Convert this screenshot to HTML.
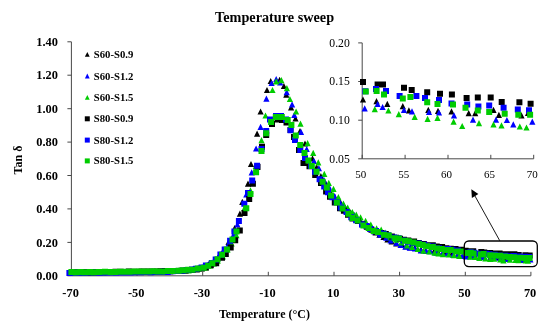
<!DOCTYPE html>
<html><head><meta charset="utf-8"><title>Temperature sweep</title>
<style>
html,body{margin:0;padding:0;background:#fff;}
body{width:550px;height:325px;overflow:hidden;}
svg{display:block;}
text{font-family:"Liberation Serif",serif;fill:#000;}
.b{font-weight:bold;}
</style></head><body>
<svg width="550" height="325" viewBox="0 0 550 325">
<rect width="550" height="325" fill="#fff"/>
<text class="b" x="274.6" y="21.8" font-size="14" text-anchor="middle" textLength="119" lengthAdjust="spacingAndGlyphs">Temperature sweep</text>
<g stroke="#484848" stroke-width="1" fill="none">
<path d="M71.4 41.8V275.8H530.9"/>
<path d="M67.4 275.8H71.4"/>
<path d="M67.4 242.4H71.4"/>
<path d="M67.4 208.9H71.4"/>
<path d="M67.4 175.5H71.4"/>
<path d="M67.4 142.1H71.4"/>
<path d="M67.4 108.7H71.4"/>
<path d="M67.4 75.2H71.4"/>
<path d="M67.4 41.8H71.4"/>
<path d="M71.4 271.8V275.8"/>
<path d="M137.0 271.8V275.8"/>
<path d="M202.7 271.8V275.8"/>
<path d="M268.3 271.8V275.8"/>
<path d="M334.0 271.8V275.8"/>
<path d="M399.6 271.8V275.8"/>
<path d="M465.3 271.8V275.8"/>
<path d="M530.9 271.8V275.8"/>
<path d="M362.2 42.9V158.8H533.7"/>
<path d="M358.2 158.8H362.2"/>
<path d="M358.2 120.2H362.2"/>
<path d="M358.2 81.5H362.2"/>
<path d="M358.2 42.9H362.2"/>
<path d="M362.2 154.8V158.8"/>
<path d="M405.1 154.8V158.8"/>
<path d="M448.0 154.8V158.8"/>
<path d="M490.8 154.8V158.8"/>
<path d="M533.7 154.8V158.8"/>
</g>
<text class="b" x="58" y="280.0" font-size="12.4" text-anchor="end">0.00</text>
<text class="b" x="58" y="246.6" font-size="12.4" text-anchor="end">0.20</text>
<text class="b" x="58" y="213.1" font-size="12.4" text-anchor="end">0.40</text>
<text class="b" x="58" y="179.7" font-size="12.4" text-anchor="end">0.60</text>
<text class="b" x="58" y="146.3" font-size="12.4" text-anchor="end">0.80</text>
<text class="b" x="58" y="112.9" font-size="12.4" text-anchor="end">1.00</text>
<text class="b" x="58" y="79.4" font-size="12.4" text-anchor="end">1.20</text>
<text class="b" x="58" y="46.0" font-size="12.4" text-anchor="end">1.40</text>
<text class="b" x="70.6" y="297.3" font-size="12.4" text-anchor="middle">-70</text>
<text class="b" x="136.2" y="297.3" font-size="12.4" text-anchor="middle">-50</text>
<text class="b" x="201.9" y="297.3" font-size="12.4" text-anchor="middle">-30</text>
<text class="b" x="267.5" y="297.3" font-size="12.4" text-anchor="middle">-10</text>
<text class="b" x="333.2" y="297.3" font-size="12.4" text-anchor="middle">10</text>
<text class="b" x="398.8" y="297.3" font-size="12.4" text-anchor="middle">30</text>
<text class="b" x="464.5" y="297.3" font-size="12.4" text-anchor="middle">50</text>
<text class="b" x="530.1" y="297.3" font-size="12.4" text-anchor="middle">70</text>
<text class="b" x="264.4" y="318" font-size="12.5" text-anchor="middle" textLength="91" lengthAdjust="spacingAndGlyphs">Temperature (°C)</text>
<text class="b" transform="translate(22,160) rotate(-90)" font-size="12" text-anchor="middle">Tan δ</text>
<text x="349.8" y="162.6" font-size="11.7" text-anchor="end">0.05</text>
<text x="349.8" y="124.0" font-size="11.7" text-anchor="end">0.10</text>
<text x="349.8" y="85.3" font-size="11.7" text-anchor="end">0.15</text>
<text x="349.8" y="46.7" font-size="11.7" text-anchor="end">0.20</text>
<text x="360.8" y="177.6" font-size="11" text-anchor="middle">50</text>
<text x="403.7" y="177.6" font-size="11" text-anchor="middle">55</text>
<text x="446.6" y="177.6" font-size="11" text-anchor="middle">60</text>
<text x="489.4" y="177.6" font-size="11" text-anchor="middle">65</text>
<text x="532.3" y="177.6" font-size="11" text-anchor="middle">70</text>
<path fill="#000000" d="M84.9 56.8L89.7 56.8L87.3 52.0Z"/>
<text class="b" x="93.8" y="58.1" font-size="10.8" textLength="39.6" lengthAdjust="spacingAndGlyphs">S60-S0.9</text>
<path fill="#0000ff" d="M84.9 78.4L89.7 78.4L87.3 73.6Z"/>
<text class="b" x="93.8" y="79.7" font-size="10.8" textLength="39.6" lengthAdjust="spacingAndGlyphs">S60-S1.2</text>
<path fill="#00cc00" d="M84.9 99.7L89.7 99.7L87.3 94.9Z"/>
<text class="b" x="93.8" y="101.0" font-size="10.8" textLength="39.6" lengthAdjust="spacingAndGlyphs">S60-S1.5</text>
<path fill="#000000" d="M84.8 116.3h5.0v5.0h-5.0Z"/>
<text class="b" x="93.8" y="122.3" font-size="10.8" textLength="39.6" lengthAdjust="spacingAndGlyphs">S80-S0.9</text>
<path fill="#0000ff" d="M84.8 137.6h5.0v5.0h-5.0Z"/>
<text class="b" x="93.8" y="143.6" font-size="10.8" textLength="39.6" lengthAdjust="spacingAndGlyphs">S80-S1.2</text>
<path fill="#00cc00" d="M84.8 158.4h5.0v5.0h-5.0Z"/>
<text class="b" x="93.8" y="164.4" font-size="10.8" textLength="39.6" lengthAdjust="spacingAndGlyphs">S80-S1.5</text>
<g><path fill="#000000" d="M68.3 275.4L74.5 275.4L71.4 269.2ZM72.4 275.3L78.6 275.3L75.5 269.1ZM76.4 275.3L82.6 275.3L79.5 269.1ZM81.0 275.4L87.2 275.4L84.1 269.2ZM85.9 275.4L92.1 275.4L89.0 269.2ZM90.7 275.4L96.9 275.4L93.8 269.2ZM94.7 275.2L100.9 275.2L97.8 269.0ZM100.3 275.3L106.5 275.3L103.4 269.1ZM104.6 275.1L110.8 275.1L107.7 268.9ZM110.6 275.0L116.8 275.0L113.7 268.8ZM115.3 274.9L121.5 274.9L118.4 268.7ZM119.2 274.9L125.4 274.9L122.3 268.7ZM123.6 275.1L129.8 275.1L126.7 268.9ZM127.6 275.0L133.8 275.0L130.7 268.8ZM133.3 275.0L139.5 275.0L136.4 268.8ZM138.4 274.7L144.6 274.7L141.5 268.5ZM143.0 274.7L149.2 274.7L146.1 268.5ZM146.9 274.8L153.1 274.8L150.0 268.6ZM151.2 274.5L157.4 274.5L154.3 268.3ZM155.9 274.5L162.1 274.5L159.0 268.3ZM161.1 274.3L167.3 274.3L164.2 268.1ZM165.5 274.1L171.7 274.1L168.6 267.9ZM170.9 274.0L177.1 274.0L174.0 267.8ZM176.0 273.6L182.2 273.6L179.1 267.4ZM181.8 273.2L188.0 273.2L184.9 267.0ZM186.2 272.4L192.4 272.4L189.3 266.2ZM190.3 272.0L196.5 272.0L193.4 265.8ZM195.8 271.2L202.0 271.2L198.9 265.0ZM200.7 269.9L206.9 269.9L203.8 263.7ZM206.0 266.8L212.2 266.8L209.1 260.6ZM211.1 263.2L217.3 263.2L214.2 257.0ZM215.6 259.2L221.8 259.2L218.7 253.0ZM220.7 252.8L226.9 252.8L223.8 246.6ZM225.5 244.9L231.7 244.9L228.6 238.7ZM231.5 231.2L237.7 231.2L234.6 225.0ZM236.8 216.8L243.0 216.8L239.9 210.6ZM309.4 161.5L315.6 161.5L312.5 155.3ZM313.5 170.2L319.7 170.2L316.6 164.0ZM317.8 179.3L324.0 179.3L320.9 173.1ZM322.7 186.6L328.9 186.6L325.8 180.4ZM327.1 194.5L333.3 194.5L330.2 188.3ZM331.8 200.1L338.0 200.1L334.9 193.9ZM336.9 204.4L343.1 204.4L340.0 198.2ZM342.3 210.9L348.5 210.9L345.4 204.7ZM347.5 215.5L353.7 215.5L350.6 209.3ZM351.4 218.6L357.6 218.6L354.5 212.4ZM356.9 223.0L363.1 223.0L360.0 216.8ZM362.5 228.1L368.7 228.1L365.6 221.9ZM367.2 232.0L373.4 232.0L370.3 225.8ZM372.5 235.6L378.7 235.6L375.6 229.4ZM376.4 237.7L382.6 237.7L379.5 231.5ZM380.5 239.9L386.7 239.9L383.6 233.7ZM384.4 242.4L390.6 242.4L387.5 236.2ZM388.6 244.5L394.8 244.5L391.7 238.3ZM393.2 246.4L399.4 246.4L396.3 240.2ZM399.0 247.8L405.2 247.8L402.1 241.6ZM403.1 249.2L409.3 249.2L406.2 243.0ZM407.6 250.2L413.8 250.2L410.7 244.0ZM411.7 250.7L417.9 250.7L414.8 244.5ZM417.8 252.5L424.0 252.5L420.9 246.3ZM422.6 253.5L428.8 253.5L425.7 247.3ZM426.7 253.7L432.9 253.7L429.8 247.5ZM431.0 253.9L437.2 253.9L434.1 247.7ZM435.2 255.1L441.4 255.1L438.3 248.9ZM441.1 255.4L447.3 255.4L444.2 249.2ZM445.3 255.9L451.5 255.9L448.4 249.7ZM449.1 256.4L455.3 256.4L452.2 250.2ZM455.1 256.8L461.3 256.8L458.2 250.6ZM239.2 205.0L245.4 205.0L242.3 198.8ZM244.9 186.8L251.1 186.8L248.0 180.6ZM247.9 167.1L254.1 167.1L251.0 160.9ZM254.0 136.8L260.2 136.8L257.1 130.6ZM257.5 114.6L263.7 114.6L260.6 108.4ZM263.9 93.1L270.1 93.1L267.0 86.9ZM267.6 84.1L273.8 84.1L270.7 77.9ZM276.5 83.0L282.7 83.0L279.6 76.8ZM280.8 89.1L287.0 89.1L283.9 82.9ZM283.2 97.7L289.4 97.7L286.3 91.5ZM288.0 110.5L294.2 110.5L291.1 104.3ZM292.4 121.6L298.6 121.6L295.5 115.4ZM296.9 134.1L303.1 134.1L300.0 127.9ZM301.9 146.6L308.1 146.6L305.0 140.4ZM462.5 257.7L468.7 257.7L465.6 251.5ZM467.6 258.1L473.8 258.1L470.7 251.9ZM471.8 258.6L478.0 258.6L474.9 252.4ZM477.7 259.2L483.9 259.2L480.8 253.0ZM480.0 260.1L486.2 260.1L483.1 253.9ZM487.5 260.0L493.7 260.0L490.6 253.8ZM491.2 260.2L497.4 260.2L494.3 254.0ZM496.3 260.3L502.5 260.3L499.4 254.1ZM502.9 260.7L509.1 260.7L506.0 254.5ZM505.4 260.7L511.6 260.7L508.5 254.5ZM512.4 260.0L518.6 260.0L515.5 253.8ZM514.5 261.0L520.7 261.0L517.6 254.8ZM523.1 261.1L529.3 261.1L526.2 254.9ZM525.6 260.6L531.8 260.6L528.7 254.4Z"/>
<path fill="#0000ff" d="M67.0 275.5L73.2 275.5L70.1 269.3ZM71.6 275.5L77.8 275.5L74.7 269.3ZM77.2 275.3L83.4 275.3L80.3 269.1ZM82.7 275.3L88.9 275.3L85.8 269.1ZM87.0 275.1L93.2 275.1L90.1 268.9ZM93.0 275.1L99.2 275.1L96.1 268.9ZM98.7 275.1L104.9 275.1L101.8 268.9ZM104.1 275.2L110.3 275.2L107.2 269.0ZM109.1 275.1L115.3 275.1L112.2 268.9ZM112.9 275.2L119.1 275.2L116.0 269.0ZM117.4 275.1L123.6 275.1L120.5 268.9ZM122.7 274.8L128.9 274.8L125.8 268.6ZM127.5 274.8L133.7 274.8L130.6 268.6ZM133.6 274.7L139.8 274.7L136.7 268.5ZM138.2 274.9L144.4 274.9L141.3 268.7ZM142.5 274.8L148.7 274.8L145.6 268.6ZM146.7 274.6L152.9 274.6L149.8 268.4ZM152.6 274.4L158.8 274.4L155.7 268.2ZM157.4 274.4L163.6 274.4L160.5 268.2ZM163.1 274.4L169.3 274.4L166.2 268.2ZM168.3 274.0L174.5 274.0L171.4 267.8ZM173.9 273.7L180.1 273.7L177.0 267.5ZM178.8 273.6L185.0 273.6L181.9 267.4ZM184.4 273.1L190.6 273.1L187.5 266.9ZM190.0 271.9L196.2 271.9L193.1 265.7ZM194.7 271.4L200.9 271.4L197.8 265.2ZM200.6 269.9L206.8 269.9L203.7 263.7ZM204.8 268.1L211.0 268.1L207.9 261.9ZM208.9 265.6L215.1 265.6L212.0 259.4ZM214.5 261.2L220.7 261.2L217.6 255.0ZM220.2 253.9L226.4 253.9L223.3 247.7ZM225.5 246.6L231.7 246.6L228.6 240.4ZM230.5 237.6L236.7 237.6L233.6 231.4ZM234.3 227.4L240.5 227.4L237.4 221.2ZM310.9 164.1L317.1 164.1L314.0 157.9ZM315.8 171.3L322.0 171.3L318.9 165.1ZM320.8 182.9L327.0 182.9L323.9 176.7ZM325.8 189.8L332.0 189.8L328.9 183.6ZM331.4 199.3L337.6 199.3L334.5 193.1ZM336.4 204.5L342.6 204.5L339.5 198.3ZM340.8 208.4L347.0 208.4L343.9 202.2ZM345.8 213.7L352.0 213.7L348.9 207.5ZM351.3 218.3L357.5 218.3L354.4 212.1ZM356.1 222.6L362.3 222.6L359.2 216.4ZM361.0 226.7L367.2 226.7L364.1 220.5ZM366.4 230.9L372.6 230.9L369.5 224.7ZM371.4 234.5L377.6 234.5L374.5 228.3ZM377.3 237.7L383.5 237.7L380.4 231.5ZM383.1 240.7L389.3 240.7L386.2 234.5ZM387.5 243.6L393.7 243.6L390.6 237.4ZM393.4 245.9L399.6 245.9L396.5 239.7ZM397.5 248.1L403.7 248.1L400.6 241.9ZM402.3 249.7L408.5 249.7L405.4 243.5ZM406.7 250.8L412.9 250.8L409.8 244.6ZM412.0 251.5L418.2 251.5L415.1 245.3ZM417.8 253.5L424.0 253.5L420.9 247.3ZM423.2 254.0L429.4 254.0L426.3 247.8ZM427.3 254.3L433.5 254.3L430.4 248.1ZM433.3 255.7L439.5 255.7L436.4 249.5ZM439.3 256.3L445.5 256.3L442.4 250.1ZM444.2 256.5L450.4 256.5L447.3 250.3ZM449.9 257.8L456.1 257.8L453.0 251.6ZM454.6 258.0L460.8 258.0L457.7 251.8ZM459.2 258.9L465.4 258.9L462.3 252.7ZM243.2 197.6L249.4 197.6L246.3 191.4ZM248.6 175.4L254.8 175.4L251.7 169.2ZM253.0 151.6L259.2 151.6L256.1 145.4ZM257.5 130.0L263.7 130.0L260.6 123.8ZM263.3 101.7L269.5 101.7L266.4 95.5ZM268.5 86.1L274.7 86.1L271.6 79.9ZM273.1 82.3L279.3 82.3L276.2 76.1ZM277.1 85.4L283.3 85.4L280.2 79.2ZM283.6 95.3L289.8 95.3L286.7 89.1ZM289.0 107.5L295.2 107.5L292.1 101.3ZM291.2 117.9L297.4 117.9L294.3 111.7ZM297.9 134.9L304.1 134.9L301.0 128.7ZM303.6 152.1L309.8 152.1L306.7 145.9ZM463.1 259.6L469.3 259.6L466.2 253.4ZM468.1 258.7L474.3 258.7L471.2 252.5ZM470.0 259.3L476.2 259.3L473.1 253.1ZM478.2 260.0L484.4 260.0L481.3 253.8ZM481.2 260.3L487.4 260.3L484.3 254.1ZM487.7 260.4L493.9 260.4L490.8 254.2ZM491.6 260.5L497.8 260.5L494.7 254.3ZM497.3 261.1L503.5 261.1L500.4 254.9ZM504.6 262.1L510.8 262.1L507.7 255.9ZM513.4 262.1L519.6 262.1L516.5 255.9ZM517.5 262.1L523.7 262.1L520.6 255.9ZM520.0 263.1L526.2 263.1L523.1 256.9ZM527.3 262.5L533.5 262.5L530.4 256.3Z"/>
<path fill="#00cc00" d="M69.3 275.3L75.5 275.3L72.4 269.1ZM73.1 275.4L79.3 275.4L76.2 269.2ZM77.9 275.5L84.1 275.5L81.0 269.3ZM82.4 275.3L88.6 275.3L85.5 269.1ZM87.4 275.4L93.6 275.4L90.5 269.2ZM93.4 275.1L99.6 275.1L96.5 268.9ZM99.4 275.3L105.6 275.3L102.5 269.1ZM103.8 275.3L110.0 275.3L106.9 269.1ZM109.4 275.2L115.6 275.2L112.5 269.0ZM113.4 275.1L119.6 275.1L116.5 268.9ZM119.3 274.9L125.5 274.9L122.4 268.7ZM123.7 275.1L129.9 275.1L126.8 268.9ZM129.6 274.9L135.8 274.9L132.7 268.7ZM135.0 275.0L141.2 275.0L138.1 268.8ZM138.9 274.8L145.1 274.8L142.0 268.6ZM143.6 274.9L149.8 274.9L146.7 268.7ZM149.5 274.6L155.7 274.6L152.6 268.4ZM155.2 274.7L161.4 274.7L158.3 268.5ZM160.9 274.6L167.1 274.6L164.0 268.4ZM166.7 274.3L172.9 274.3L169.8 268.1ZM171.2 274.1L177.4 274.1L174.3 267.9ZM177.1 273.9L183.3 273.9L180.2 267.7ZM181.2 273.5L187.4 273.5L184.3 267.3ZM185.5 273.4L191.7 273.4L188.6 267.2ZM189.6 272.9L195.8 272.9L192.7 266.7ZM193.9 272.1L200.1 272.1L197.0 265.9ZM198.4 271.2L204.6 271.2L201.5 265.0ZM202.8 270.6L209.0 270.6L205.9 264.4ZM207.0 268.5L213.2 268.5L210.1 262.3ZM210.8 266.6L217.0 266.6L213.9 260.4ZM214.6 263.7L220.8 263.7L217.7 257.5ZM219.7 259.4L225.9 259.4L222.8 253.2ZM224.5 252.6L230.7 252.6L227.6 246.4ZM228.5 246.5L234.7 246.5L231.6 240.3ZM233.3 238.3L239.5 238.3L236.4 232.1ZM310.1 156.0L316.3 156.0L313.2 149.8ZM315.2 165.5L321.4 165.5L318.3 159.3ZM321.2 177.0L327.4 177.0L324.3 170.8ZM325.7 186.0L331.9 186.0L328.8 179.8ZM330.4 192.0L336.6 192.0L333.5 185.8ZM335.3 200.3L341.5 200.3L338.4 194.1ZM340.3 206.7L346.5 206.7L343.4 200.5ZM344.6 210.8L350.8 210.8L347.7 204.6ZM349.3 215.2L355.5 215.2L352.4 209.0ZM353.2 217.8L359.4 217.8L356.3 211.6ZM357.5 220.5L363.7 220.5L360.6 214.3ZM362.5 223.9L368.7 223.9L365.6 217.7ZM367.7 227.6L373.9 227.6L370.8 221.4ZM373.5 231.4L379.7 231.4L376.6 225.2ZM378.1 232.8L384.3 232.8L381.2 226.6ZM382.2 235.7L388.4 235.7L385.3 229.5ZM387.4 240.2L393.6 240.2L390.5 234.0ZM393.1 242.7L399.3 242.7L396.2 236.5ZM398.3 245.5L404.5 245.5L401.4 239.3ZM404.0 248.5L410.2 248.5L407.1 242.3ZM409.0 250.1L415.2 250.1L412.1 243.9ZM414.7 252.0L420.9 252.0L417.8 245.8ZM420.3 253.7L426.5 253.7L423.4 247.5ZM426.2 254.6L432.4 254.6L429.3 248.4ZM431.5 255.8L437.7 255.8L434.6 249.6ZM435.4 256.5L441.6 256.5L438.5 250.3ZM440.0 257.2L446.2 257.2L443.1 251.0ZM445.7 257.6L451.9 257.6L448.8 251.4ZM450.9 258.2L457.1 258.2L454.0 252.0ZM456.2 258.9L462.4 258.9L459.3 252.7ZM241.4 211.1L247.6 211.1L244.5 204.9ZM247.4 193.4L253.6 193.4L250.5 187.2ZM252.7 169.1L258.9 169.1L255.8 162.9ZM258.4 143.3L264.6 143.3L261.5 137.1ZM262.4 118.6L268.6 118.6L265.5 112.4ZM269.4 93.1L275.6 93.1L272.5 86.9ZM273.1 84.4L279.3 84.4L276.2 78.2ZM278.3 83.2L284.5 83.2L281.4 77.0ZM283.8 91.2L290.0 91.2L286.9 85.0ZM286.8 102.1L293.0 102.1L289.9 95.9ZM293.0 114.6L299.2 114.6L296.1 108.4ZM297.4 126.7L303.6 126.7L300.5 120.5ZM304.5 146.2L310.7 146.2L307.6 140.0ZM467.0 259.8L473.2 259.8L470.1 253.6ZM472.2 260.1L478.4 260.1L475.3 253.9ZM476.2 260.9L482.4 260.9L479.3 254.7ZM482.3 261.5L488.5 261.5L485.4 255.3ZM487.2 261.9L493.4 261.9L490.3 255.7ZM491.0 261.7L497.2 261.7L494.1 255.5ZM497.1 262.5L503.3 262.5L500.2 256.3ZM500.4 263.4L506.6 263.4L503.5 257.2ZM506.9 262.8L513.1 262.8L510.0 256.6ZM512.4 263.1L518.6 263.1L515.5 256.9ZM515.5 263.3L521.7 263.3L518.6 257.1ZM522.5 263.6L528.7 263.6L525.6 257.4ZM525.0 263.8L531.2 263.8L528.1 257.6Z"/>
<path fill="#000000" d="M69.1 269.0h6.0v6.0h-6.0ZM74.6 269.1h6.0v6.0h-6.0ZM79.6 269.0h6.0v6.0h-6.0ZM83.5 269.0h6.0v6.0h-6.0ZM87.8 269.2h6.0v6.0h-6.0ZM92.2 268.9h6.0v6.0h-6.0ZM96.5 268.9h6.0v6.0h-6.0ZM102.5 269.0h6.0v6.0h-6.0ZM107.1 268.9h6.0v6.0h-6.0ZM112.5 268.8h6.0v6.0h-6.0ZM117.7 268.8h6.0v6.0h-6.0ZM121.6 268.9h6.0v6.0h-6.0ZM126.0 268.6h6.0v6.0h-6.0ZM130.5 268.7h6.0v6.0h-6.0ZM134.3 268.8h6.0v6.0h-6.0ZM138.7 268.5h6.0v6.0h-6.0ZM144.0 268.4h6.0v6.0h-6.0ZM148.5 268.4h6.0v6.0h-6.0ZM153.3 268.4h6.0v6.0h-6.0ZM157.3 268.2h6.0v6.0h-6.0ZM161.6 268.1h6.0v6.0h-6.0ZM167.5 268.3h6.0v6.0h-6.0ZM172.3 267.9h6.0v6.0h-6.0ZM178.3 267.7h6.0v6.0h-6.0ZM182.7 267.5h6.0v6.0h-6.0ZM188.7 267.0h6.0v6.0h-6.0ZM193.8 266.5h6.0v6.0h-6.0ZM198.8 265.4h6.0v6.0h-6.0ZM202.8 264.6h6.0v6.0h-6.0ZM207.8 262.3h6.0v6.0h-6.0ZM213.2 260.2h6.0v6.0h-6.0ZM219.0 254.7h6.0v6.0h-6.0ZM222.8 251.1h6.0v6.0h-6.0ZM227.7 244.5h6.0v6.0h-6.0ZM232.2 237.2h6.0v6.0h-6.0ZM236.8 227.5h6.0v6.0h-6.0ZM306.5 163.2h6.0v6.0h-6.0ZM312.2 172.0h6.0v6.0h-6.0ZM318.0 180.0h6.0v6.0h-6.0ZM323.1 188.5h6.0v6.0h-6.0ZM327.0 193.8h6.0v6.0h-6.0ZM331.8 199.4h6.0v6.0h-6.0ZM337.0 205.3h6.0v6.0h-6.0ZM340.9 207.7h6.0v6.0h-6.0ZM345.0 211.7h6.0v6.0h-6.0ZM349.5 215.5h6.0v6.0h-6.0ZM355.0 217.9h6.0v6.0h-6.0ZM359.4 221.2h6.0v6.0h-6.0ZM363.8 223.7h6.0v6.0h-6.0ZM368.5 226.7h6.0v6.0h-6.0ZM372.7 228.4h6.0v6.0h-6.0ZM378.5 230.1h6.0v6.0h-6.0ZM382.8 231.0h6.0v6.0h-6.0ZM388.9 233.4h6.0v6.0h-6.0ZM393.0 234.8h6.0v6.0h-6.0ZM397.0 235.7h6.0v6.0h-6.0ZM400.9 236.8h6.0v6.0h-6.0ZM405.3 237.4h6.0v6.0h-6.0ZM411.1 238.6h6.0v6.0h-6.0ZM415.8 240.0h6.0v6.0h-6.0ZM420.8 241.1h6.0v6.0h-6.0ZM425.4 242.3h6.0v6.0h-6.0ZM429.8 242.2h6.0v6.0h-6.0ZM433.8 243.5h6.0v6.0h-6.0ZM439.1 244.1h6.0v6.0h-6.0ZM443.3 245.2h6.0v6.0h-6.0ZM447.7 245.7h6.0v6.0h-6.0ZM452.5 245.9h6.0v6.0h-6.0ZM458.2 246.8h6.0v6.0h-6.0ZM241.5 210.0h6.0v6.0h-6.0ZM246.2 195.9h6.0v6.0h-6.0ZM249.9 180.7h6.0v6.0h-6.0ZM254.5 164.0h6.0v6.0h-6.0ZM259.0 143.7h6.0v6.0h-6.0ZM263.2 132.0h6.0v6.0h-6.0ZM269.0 121.0h6.0v6.0h-6.0ZM274.5 116.5h6.0v6.0h-6.0ZM279.0 117.0h6.0v6.0h-6.0ZM283.5 119.5h6.0v6.0h-6.0ZM287.5 127.0h6.0v6.0h-6.0ZM291.0 134.0h6.0v6.0h-6.0ZM296.0 147.0h6.0v6.0h-6.0ZM300.5 160.0h6.0v6.0h-6.0ZM462.6 247.8h6.0v6.0h-6.0ZM468.2 248.3h6.0v6.0h-6.0ZM470.2 248.3h6.0v6.0h-6.0ZM478.3 249.1h6.0v6.0h-6.0ZM481.2 249.6h6.0v6.0h-6.0ZM487.1 250.0h6.0v6.0h-6.0ZM492.0 250.4h6.0v6.0h-6.0ZM496.6 250.5h6.0v6.0h-6.0ZM502.2 251.3h6.0v6.0h-6.0ZM506.5 251.2h6.0v6.0h-6.0ZM511.4 251.2h6.0v6.0h-6.0ZM515.7 252.1h6.0v6.0h-6.0ZM522.4 252.2h6.0v6.0h-6.0ZM526.7 252.5h6.0v6.0h-6.0Z"/>
<path fill="#0000ff" d="M66.4 269.9h6.0v6.0h-6.0ZM71.8 269.6h6.0v6.0h-6.0ZM76.7 269.7h6.0v6.0h-6.0ZM80.5 269.8h6.0v6.0h-6.0ZM86.4 269.6h6.0v6.0h-6.0ZM92.1 269.5h6.0v6.0h-6.0ZM96.5 269.8h6.0v6.0h-6.0ZM100.6 269.6h6.0v6.0h-6.0ZM105.9 269.4h6.0v6.0h-6.0ZM111.4 269.5h6.0v6.0h-6.0ZM116.9 269.5h6.0v6.0h-6.0ZM121.9 269.5h6.0v6.0h-6.0ZM127.5 269.4h6.0v6.0h-6.0ZM133.4 269.2h6.0v6.0h-6.0ZM137.9 269.3h6.0v6.0h-6.0ZM142.2 269.1h6.0v6.0h-6.0ZM147.6 269.2h6.0v6.0h-6.0ZM151.5 269.0h6.0v6.0h-6.0ZM156.7 269.0h6.0v6.0h-6.0ZM160.9 268.8h6.0v6.0h-6.0ZM164.7 268.9h6.0v6.0h-6.0ZM169.6 268.3h6.0v6.0h-6.0ZM174.8 268.0h6.0v6.0h-6.0ZM179.7 267.8h6.0v6.0h-6.0ZM184.0 267.1h6.0v6.0h-6.0ZM189.4 266.6h6.0v6.0h-6.0ZM193.3 265.8h6.0v6.0h-6.0ZM198.6 264.6h6.0v6.0h-6.0ZM202.9 262.5h6.0v6.0h-6.0ZM208.8 260.1h6.0v6.0h-6.0ZM212.7 256.4h6.0v6.0h-6.0ZM217.4 251.5h6.0v6.0h-6.0ZM221.7 246.6h6.0v6.0h-6.0ZM227.1 237.7h6.0v6.0h-6.0ZM231.4 228.4h6.0v6.0h-6.0ZM235.9 218.0h6.0v6.0h-6.0ZM308.1 163.0h6.0v6.0h-6.0ZM312.0 168.8h6.0v6.0h-6.0ZM316.6 176.2h6.0v6.0h-6.0ZM321.2 183.6h6.0v6.0h-6.0ZM325.0 189.3h6.0v6.0h-6.0ZM329.5 194.3h6.0v6.0h-6.0ZM333.6 199.1h6.0v6.0h-6.0ZM337.8 204.6h6.0v6.0h-6.0ZM343.5 209.0h6.0v6.0h-6.0ZM348.3 214.3h6.0v6.0h-6.0ZM353.1 217.3h6.0v6.0h-6.0ZM359.0 221.5h6.0v6.0h-6.0ZM363.6 223.1h6.0v6.0h-6.0ZM367.5 225.9h6.0v6.0h-6.0ZM373.1 228.0h6.0v6.0h-6.0ZM377.0 230.3h6.0v6.0h-6.0ZM380.9 230.7h6.0v6.0h-6.0ZM385.3 232.3h6.0v6.0h-6.0ZM391.1 234.6h6.0v6.0h-6.0ZM395.5 235.2h6.0v6.0h-6.0ZM400.7 237.4h6.0v6.0h-6.0ZM406.1 238.7h6.0v6.0h-6.0ZM410.5 240.1h6.0v6.0h-6.0ZM416.0 240.5h6.0v6.0h-6.0ZM421.3 241.7h6.0v6.0h-6.0ZM425.1 243.1h6.0v6.0h-6.0ZM430.0 243.4h6.0v6.0h-6.0ZM435.9 245.2h6.0v6.0h-6.0ZM440.3 245.9h6.0v6.0h-6.0ZM445.2 246.1h6.0v6.0h-6.0ZM449.4 246.8h6.0v6.0h-6.0ZM454.9 247.5h6.0v6.0h-6.0ZM241.3 200.8h6.0v6.0h-6.0ZM245.0 190.0h6.0v6.0h-6.0ZM249.2 177.5h6.0v6.0h-6.0ZM254.1 162.7h6.0v6.0h-6.0ZM258.5 146.0h6.0v6.0h-6.0ZM263.2 128.0h6.0v6.0h-6.0ZM267.0 116.5h6.0v6.0h-6.0ZM273.0 113.0h6.0v6.0h-6.0ZM278.0 113.0h6.0v6.0h-6.0ZM283.0 116.5h6.0v6.0h-6.0ZM287.6 127.3h6.0v6.0h-6.0ZM292.0 136.9h6.0v6.0h-6.0ZM297.3 147.0h6.0v6.0h-6.0ZM302.0 155.0h6.0v6.0h-6.0ZM463.4 249.8h6.0v6.0h-6.0ZM467.5 249.3h6.0v6.0h-6.0ZM471.4 249.8h6.0v6.0h-6.0ZM476.6 250.8h6.0v6.0h-6.0ZM483.0 250.8h6.0v6.0h-6.0ZM486.3 251.3h6.0v6.0h-6.0ZM491.7 251.7h6.0v6.0h-6.0ZM496.4 252.5h6.0v6.0h-6.0ZM502.4 252.7h6.0v6.0h-6.0ZM506.7 253.2h6.0v6.0h-6.0ZM510.9 252.9h6.0v6.0h-6.0ZM516.4 253.4h6.0v6.0h-6.0ZM521.8 253.8h6.0v6.0h-6.0ZM526.1 254.0h6.0v6.0h-6.0Z"/>
<path fill="#00cc00" d="M68.4 269.1h6.0v6.0h-6.0ZM72.9 269.2h6.0v6.0h-6.0ZM77.5 269.0h6.0v6.0h-6.0ZM81.5 269.2h6.0v6.0h-6.0ZM87.0 269.1h6.0v6.0h-6.0ZM90.9 269.2h6.0v6.0h-6.0ZM96.0 269.0h6.0v6.0h-6.0ZM102.0 268.8h6.0v6.0h-6.0ZM108.0 269.0h6.0v6.0h-6.0ZM112.0 269.0h6.0v6.0h-6.0ZM116.9 268.7h6.0v6.0h-6.0ZM121.7 268.8h6.0v6.0h-6.0ZM126.5 268.7h6.0v6.0h-6.0ZM131.8 268.6h6.0v6.0h-6.0ZM137.5 268.5h6.0v6.0h-6.0ZM141.5 268.4h6.0v6.0h-6.0ZM146.0 268.4h6.0v6.0h-6.0ZM150.6 268.3h6.0v6.0h-6.0ZM154.9 268.4h6.0v6.0h-6.0ZM159.2 268.4h6.0v6.0h-6.0ZM165.0 268.1h6.0v6.0h-6.0ZM169.5 268.0h6.0v6.0h-6.0ZM175.6 267.7h6.0v6.0h-6.0ZM179.9 267.3h6.0v6.0h-6.0ZM185.2 266.8h6.0v6.0h-6.0ZM189.2 266.7h6.0v6.0h-6.0ZM194.8 265.6h6.0v6.0h-6.0ZM200.7 264.7h6.0v6.0h-6.0ZM205.2 262.7h6.0v6.0h-6.0ZM209.4 260.3h6.0v6.0h-6.0ZM214.5 256.2h6.0v6.0h-6.0ZM219.1 251.7h6.0v6.0h-6.0ZM223.9 246.6h6.0v6.0h-6.0ZM229.5 236.5h6.0v6.0h-6.0ZM233.5 228.6h6.0v6.0h-6.0ZM308.8 163.0h6.0v6.0h-6.0ZM313.6 168.7h6.0v6.0h-6.0ZM319.6 178.7h6.0v6.0h-6.0ZM323.8 184.5h6.0v6.0h-6.0ZM328.1 192.6h6.0v6.0h-6.0ZM333.9 199.5h6.0v6.0h-6.0ZM339.6 205.5h6.0v6.0h-6.0ZM345.4 210.7h6.0v6.0h-6.0ZM349.5 215.0h6.0v6.0h-6.0ZM354.6 217.6h6.0v6.0h-6.0ZM360.4 222.5h6.0v6.0h-6.0ZM365.7 225.0h6.0v6.0h-6.0ZM370.6 227.9h6.0v6.0h-6.0ZM375.0 229.1h6.0v6.0h-6.0ZM380.9 231.8h6.0v6.0h-6.0ZM385.8 232.6h6.0v6.0h-6.0ZM391.8 235.2h6.0v6.0h-6.0ZM395.9 235.5h6.0v6.0h-6.0ZM401.9 237.7h6.0v6.0h-6.0ZM405.8 238.3h6.0v6.0h-6.0ZM410.5 239.5h6.0v6.0h-6.0ZM415.7 240.9h6.0v6.0h-6.0ZM419.8 241.9h6.0v6.0h-6.0ZM424.1 243.2h6.0v6.0h-6.0ZM429.8 244.0h6.0v6.0h-6.0ZM434.0 245.4h6.0v6.0h-6.0ZM438.7 246.1h6.0v6.0h-6.0ZM443.3 247.0h6.0v6.0h-6.0ZM447.7 247.1h6.0v6.0h-6.0ZM453.5 248.5h6.0v6.0h-6.0ZM458.6 248.6h6.0v6.0h-6.0ZM243.3 205.3h6.0v6.0h-6.0ZM247.5 191.0h6.0v6.0h-6.0ZM253.1 169.3h6.0v6.0h-6.0ZM258.5 147.9h6.0v6.0h-6.0ZM263.2 130.2h6.0v6.0h-6.0ZM268.1 118.9h6.0v6.0h-6.0ZM272.8 114.0h6.0v6.0h-6.0ZM278.8 114.0h6.0v6.0h-6.0ZM284.7 117.0h6.0v6.0h-6.0ZM288.4 122.1h6.0v6.0h-6.0ZM292.8 132.5h6.0v6.0h-6.0ZM297.2 142.0h6.0v6.0h-6.0ZM301.5 150.0h6.0v6.0h-6.0ZM305.4 157.6h6.0v6.0h-6.0ZM463.6 249.9h6.0v6.0h-6.0ZM467.8 249.8h6.0v6.0h-6.0ZM470.6 250.5h6.0v6.0h-6.0ZM477.8 251.4h6.0v6.0h-6.0ZM480.7 251.1h6.0v6.0h-6.0ZM487.1 252.2h6.0v6.0h-6.0ZM491.1 252.6h6.0v6.0h-6.0ZM497.0 252.7h6.0v6.0h-6.0ZM501.8 253.4h6.0v6.0h-6.0ZM506.5 254.0h6.0v6.0h-6.0ZM510.9 254.3h6.0v6.0h-6.0ZM516.8 254.7h6.0v6.0h-6.0ZM522.0 254.9h6.0v6.0h-6.0ZM526.5 254.9h6.0v6.0h-6.0Z"/></g>
<g><path fill="#000000" d="M359.9 102.6L366.1 102.6L363.0 96.4ZM373.4 104.3L379.6 104.3L376.5 98.1ZM384.2 106.9L390.4 106.9L387.3 100.7ZM399.7 109.3L405.9 109.3L402.8 103.1ZM405.8 113.4L412.0 113.4L408.9 107.2ZM425.2 113.0L431.4 113.0L428.3 106.8ZM434.9 114.0L441.1 114.0L438.0 107.8ZM448.4 114.5L454.6 114.5L451.5 108.3ZM465.6 116.2L471.8 116.2L468.7 110.0ZM472.1 116.2L478.3 116.2L475.2 110.0ZM490.4 113.0L496.6 113.0L493.5 106.8ZM495.8 117.9L502.0 117.9L498.9 111.7ZM518.4 118.4L524.6 118.4L521.5 112.2ZM524.9 116.1L531.1 116.1L528.0 109.9Z"/>
<path fill="#0000ff" d="M361.6 111.5L367.8 111.5L364.7 105.3ZM374.5 107.1L380.7 107.1L377.6 100.9ZM379.5 110.1L385.7 110.1L382.6 103.9ZM400.9 113.0L407.1 113.0L404.0 106.8ZM408.9 114.5L415.1 114.5L412.0 108.3ZM425.9 115.1L432.1 115.1L429.0 108.9ZM435.9 115.6L442.1 115.6L439.0 109.4ZM450.9 118.4L457.1 118.4L454.0 112.2ZM469.9 122.7L476.1 122.7L473.0 116.5ZM492.9 122.7L499.1 122.7L496.0 116.5ZM503.8 123.1L510.0 123.1L506.9 116.9ZM510.2 127.4L516.4 127.4L513.3 121.2ZM529.2 124.8L535.4 124.8L532.3 118.6Z"/>
<path fill="#00cc00" d="M371.7 112.3L377.9 112.3L374.8 106.1ZM385.3 113.6L391.5 113.6L388.4 107.4ZM395.7 117.3L401.9 117.3L398.8 111.1ZM411.6 119.9L417.8 119.9L414.7 113.7ZM424.5 122.0L430.7 122.0L427.6 115.8ZM434.4 120.9L440.6 120.9L437.5 114.7ZM450.5 124.8L456.7 124.8L453.6 118.6ZM459.1 129.1L465.3 129.1L462.2 122.9ZM475.9 126.3L482.1 126.3L479.0 120.1ZM490.4 127.4L496.6 127.4L493.5 121.2ZM498.4 128.5L504.6 128.5L501.5 122.3ZM516.7 129.6L522.9 129.6L519.8 123.4ZM523.4 130.6L529.6 130.6L526.5 124.4Z"/>
<path fill="#000000" d="M360.0 78.9h6.0v6.0h-6.0ZM374.6 81.4h6.0v6.0h-6.0ZM380.0 81.4h6.0v6.0h-6.0ZM401.0 84.7h6.0v6.0h-6.0ZM408.7 87.0h6.0v6.0h-6.0ZM424.2 89.2h6.0v6.0h-6.0ZM437.0 90.7h6.0v6.0h-6.0ZM448.9 91.4h6.0v6.0h-6.0ZM463.6 95.0h6.0v6.0h-6.0ZM474.8 94.6h6.0v6.0h-6.0ZM487.7 94.6h6.0v6.0h-6.0ZM498.7 98.9h6.0v6.0h-6.0ZM516.4 99.3h6.0v6.0h-6.0ZM527.6 100.8h6.0v6.0h-6.0Z"/>
<path fill="#0000ff" d="M362.3 88.2h6.0v6.0h-6.0ZM373.0 86.0h6.0v6.0h-6.0ZM383.0 88.0h6.0v6.0h-6.0ZM396.6 92.9h6.0v6.0h-6.0ZM413.4 92.9h6.0v6.0h-6.0ZM422.0 95.0h6.0v6.0h-6.0ZM436.0 97.0h6.0v6.0h-6.0ZM448.5 100.4h6.0v6.0h-6.0ZM464.2 101.5h6.0v6.0h-6.0ZM475.4 103.6h6.0v6.0h-6.0ZM486.2 102.6h6.0v6.0h-6.0ZM500.6 104.7h6.0v6.0h-6.0ZM514.8 106.4h6.0v6.0h-6.0ZM526.0 107.3h6.0v6.0h-6.0Z"/>
<path fill="#00cc00" d="M362.8 88.5h6.0v6.0h-6.0ZM373.6 88.1h6.0v6.0h-6.0ZM381.0 91.4h6.0v6.0h-6.0ZM399.8 95.4h6.0v6.0h-6.0ZM407.4 94.0h6.0v6.0h-6.0ZM424.2 99.3h6.0v6.0h-6.0ZM434.5 101.0h6.0v6.0h-6.0ZM450.0 101.5h6.0v6.0h-6.0ZM462.5 104.7h6.0v6.0h-6.0ZM474.8 107.5h6.0v6.0h-6.0ZM486.2 109.0h6.0v6.0h-6.0ZM501.7 110.8h6.0v6.0h-6.0ZM515.3 111.8h6.0v6.0h-6.0ZM527.1 111.8h6.0v6.0h-6.0Z"/></g>
<rect x="464.3" y="241" width="73" height="25.6" rx="4.5" ry="4.5" fill="none" stroke="#000" stroke-width="1.3"/>
<path d="M499.8 240.8L474.2 194.6" stroke="#000" stroke-width="0.9" fill="none"/>
<path d="M471.3 189.3L478.4 194.1L471.9 197.9Z" fill="#000"/>
</svg></body></html>
